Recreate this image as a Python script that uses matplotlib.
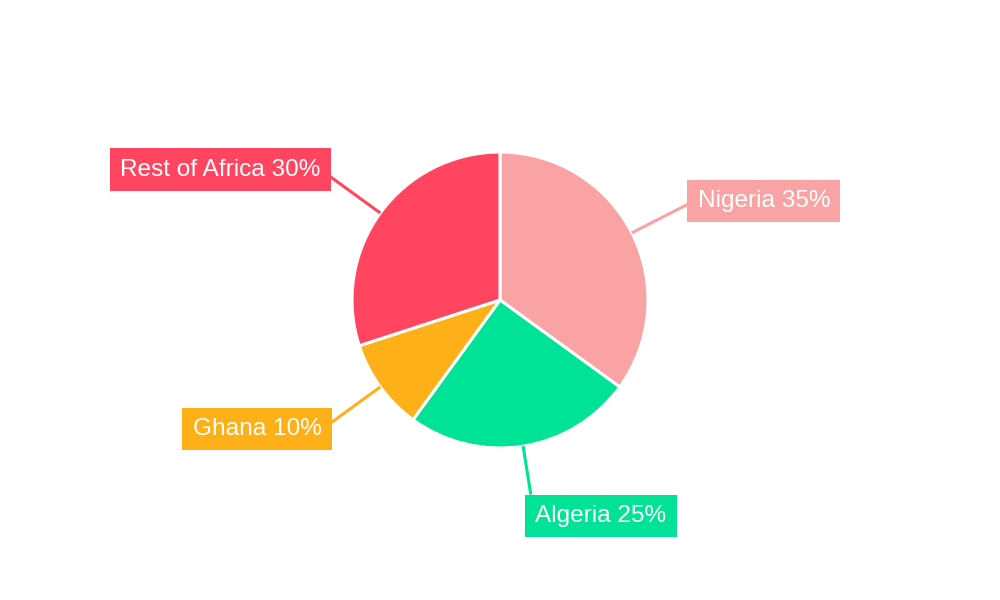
import numpy as np
import matplotlib
matplotlib.use("Agg")
import matplotlib.pyplot as plt

plt.rcParams["font.family"] = ["Liberation Sans", "DejaVu Sans"]

labels = ["Nigeria", "Algeria", "Ghana", "Rest of Africa"]
shares = [35, 25, 10, 30]
colors = ["#F9A3A4", "#00E396", "#FEB019", "#FF4560"]

fig = plt.figure(figsize=(10, 6), dpi=100)
ax = fig.add_axes([0, 0, 1, 1])

center = (500, 300)
radius = 148

wedges, _ = ax.pie(shares, colors=colors, startangle=90, counterclock=False,
                   center=center, radius=radius,
                   wedgeprops=dict(edgecolor="white", linewidth=2.2))

ax.set_xlim(0, 1000)
ax.set_ylim(0, 600)
ax.set_aspect("equal")
ax.axis("off")

# leader line lengths (from centre) and small vertical nudges of the boxes
line_r = [211, 197, 209, 210]
nudge = [3, 0, -6, 7]
pad_px = 9.5

for w, lab, val, col, rl, dy in zip(wedges, labels, shares, colors, line_r, nudge):
    ang = np.deg2rad((w.theta1 + w.theta2) / 2)
    x0 = center[0] + radius * np.cos(ang)
    y0 = center[1] + radius * np.sin(ang)
    x1 = center[0] + rl * np.cos(ang)
    y1 = center[1] + rl * np.sin(ang)
    ax.plot([x0, x1], [y0, y1], color=col, lw=2.2, solid_capstyle="butt")

    if abs(np.sin(ang)) > 0.9:
        tx, ty, ha, va = x1 - 5 + pad_px, y1 - pad_px - 1, "left", "top"
    elif np.cos(ang) > 0:
        tx, ty, ha, va = x1 + pad_px, y1 + dy, "left", "center"
    else:
        tx, ty, ha, va = x1 - pad_px, y1 + dy, "right", "center"

    ax.text(tx, ty, f"{lab} {val}%", color="white", fontsize=17.6, ha=ha, va=va,
            bbox=dict(boxstyle="square,pad=0.42", fc=col, ec="none"))

fig.savefig("out.png", dpi=100)
